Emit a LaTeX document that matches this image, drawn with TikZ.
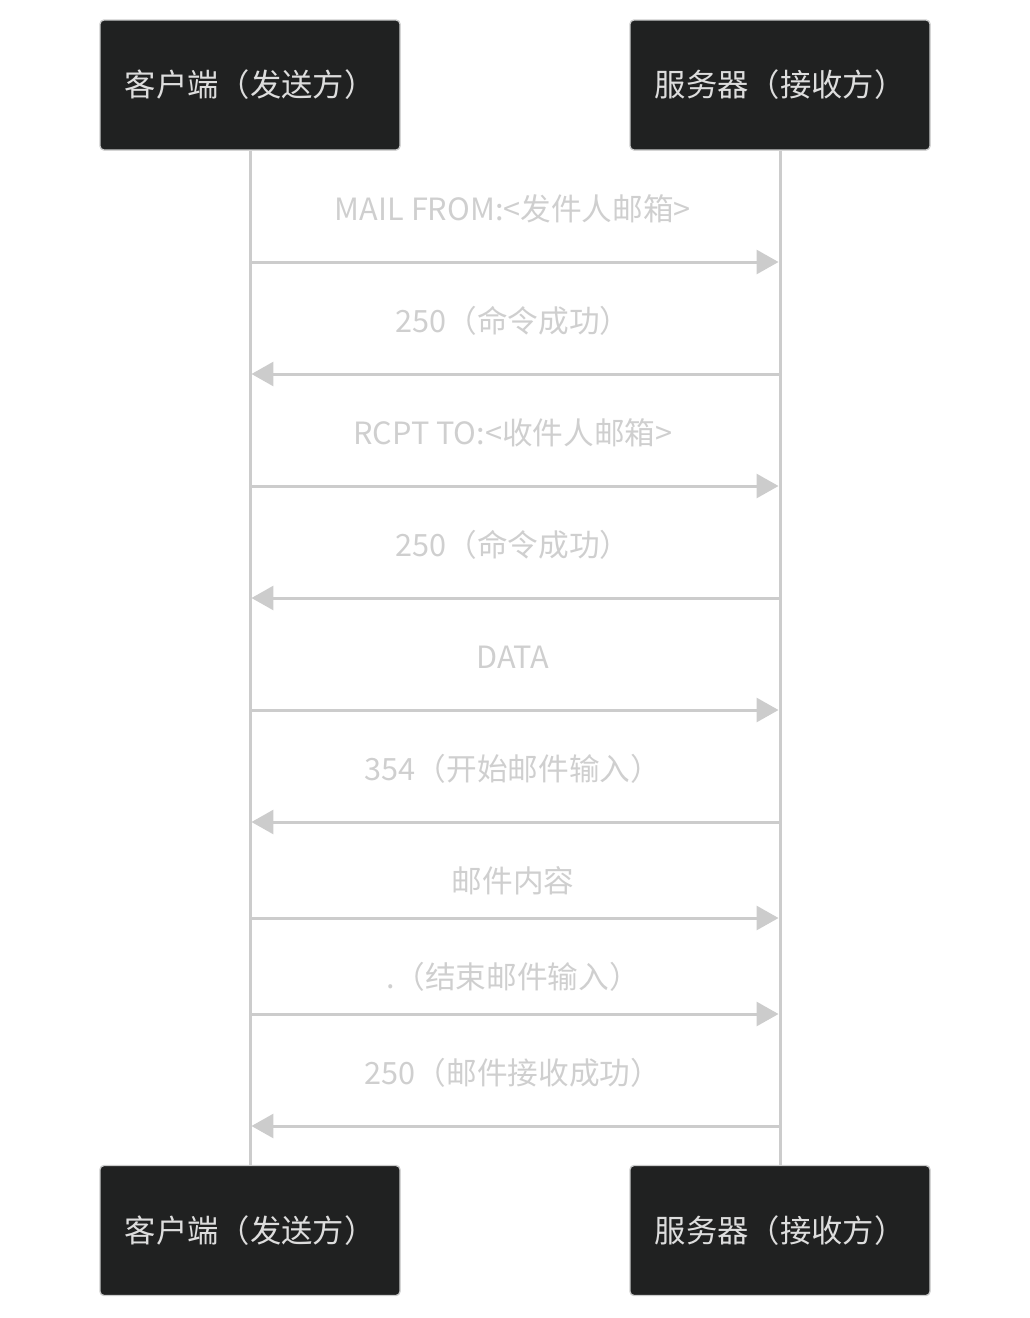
\documentclass[tikz,border=0pt]{standalone}
\usepackage{fontspec}
\setmainfont{Noto Sans CJK SC}
\usepackage{tikz}
\usetikzlibrary{arrows.meta}

\definecolor{actorfill}{HTML}{202121}
\definecolor{actortext}{HTML}{DDDDDD}
\definecolor{linegray}{HTML}{CCCCCC}
\definecolor{msggray}{HTML}{CFCFCF}

\begin{document}
\begin{tikzpicture}[x=0.75pt,y=-0.75pt]
	\useasboundingbox (0,0) rectangle (1030,1318);
	\begin{scope}[every node/.style = {draw=linegray, line width=1pt,
			fill=actorfill, rounded corners=3pt, inner sep=0pt,
			minimum width=225pt, minimum height=97.5pt, text=actortext,
			font=\fontsize{23.5}{28}\selectfont}]
		\node (C) at (250,85) {客户端（发送方）};
		\node (S) at (780,85) {服务器（接收方）};
		\node (Cb) at (250,1230.5) {客户端（发送方）};
		\node (Sb) at (780,1230.5) {服务器（接收方）};
	\end{scope}
	\begin{scope}[every path/.style={draw=linegray, line width=2.25pt}]
		\path (C) -- (Cb);
		\path (S) -- (Sb);
	\end{scope}
	% message ends on the lifelines
	\coordinate (c1) at (250,262);  \coordinate (s1) at (780,262);
	\coordinate (c2) at (250,374);  \coordinate (s2) at (780,374);
	\coordinate (c3) at (250,486);  \coordinate (s3) at (780,486);
	\coordinate (c4) at (250,598);  \coordinate (s4) at (780,598);
	\coordinate (c5) at (250,710);  \coordinate (s5) at (780,710);
	\coordinate (c6) at (250,822);  \coordinate (s6) at (780,822);
	\coordinate (c7) at (250,918);  \coordinate (s7) at (780,918);
	\coordinate (c8) at (250,1014); \coordinate (s8) at (780,1014);
	\coordinate (c9) at (250,1126); \coordinate (s9) at (780,1126);
	\begin{scope}[every node/.style = {text=msggray, inner sep=0pt,
			font=\fontsize{23}{28}\selectfont}]
		\node (M1) at (513,209) {MAIL FROM:<发件人邮箱>};
		\node (M2) at (513,321) {250（命令成功）};
		\node (M3) at (513,433) {RCPT TO:<收件人邮箱>};
		\node (M4) at (513,545) {250（命令成功）};
		\node (M5) at (513,657) {DATA};
		\node (M6) at (513,769) {354（开始邮件输入）};
		\node (M7) at (513,881) {邮件内容};
		\node (M8) at (513,977) {.（结束邮件输入）};
		\node (M9) at (513,1073) {250（邮件接收成功）};
	\end{scope}
	\begin{scope}[>={Triangle[length=16.5pt, width=18pt, linegray]},
			every edge/.style={draw=linegray, line width=2.25pt, shorten >=1.1pt}]
		\path [->] (c1) edge (s1);
		\path [->] (s2) edge (c2);
		\path [->] (c3) edge (s3);
		\path [->] (s4) edge (c4);
		\path [->] (c5) edge (s5);
		\path [->] (s6) edge (c6);
		\path [->] (c7) edge (s7);
		\path [->] (c8) edge (s8);
		\path [->] (s9) edge (c9);
	\end{scope}
\end{tikzpicture}
\end{document}
